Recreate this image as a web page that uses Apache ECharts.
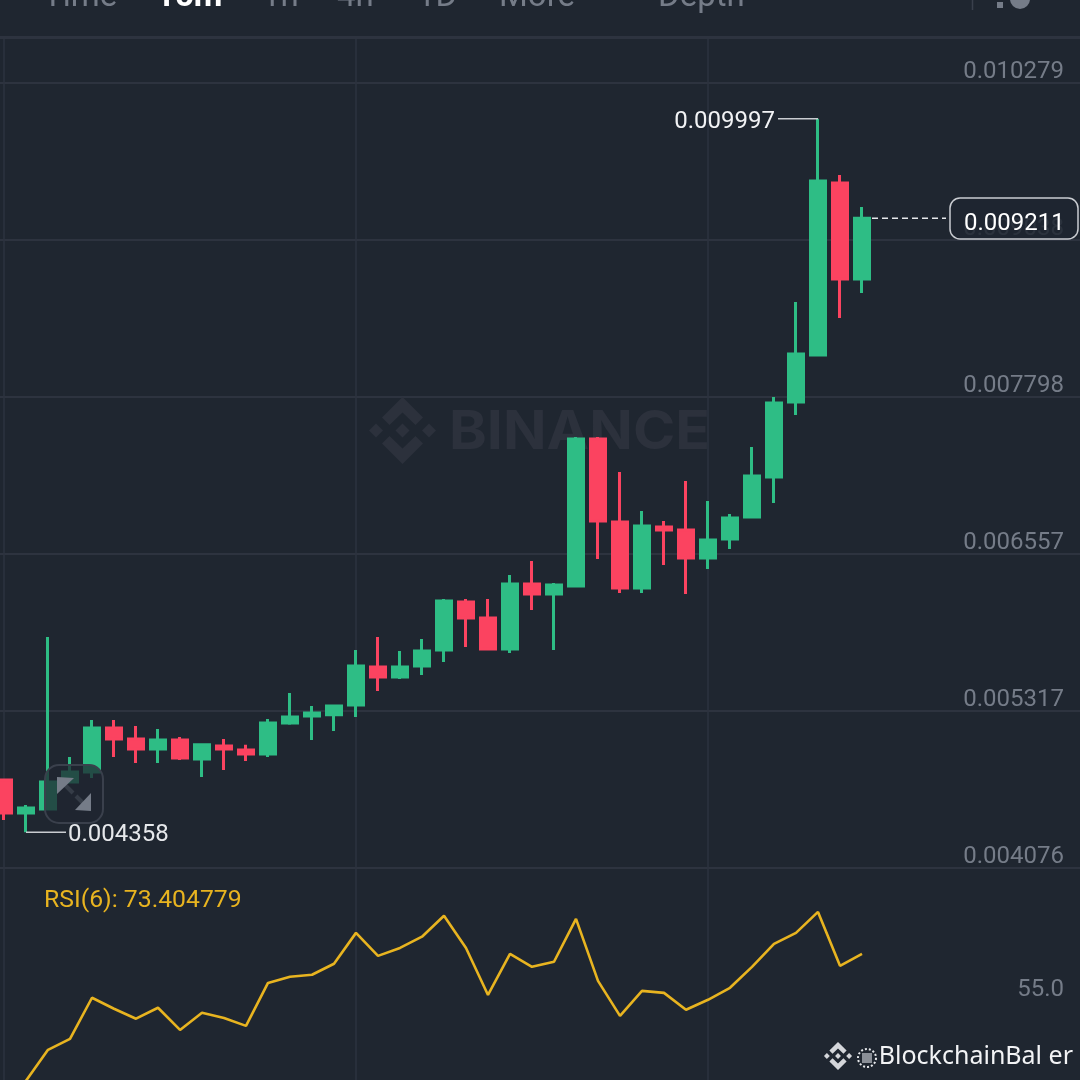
<!DOCTYPE html>
<html>
<head>
<meta charset="utf-8">
<style>
  html, body { margin: 0; padding: 0; background: #1f2630; }
  #main { width: 1080px; height: 1080px; }
</style>
<script src="https://cdn.jsdelivr.net/npm/echarts@6/dist/echarts.min.js"></script>
</head>
<body>
<div id="main"></div>
<script>
// candle values, one entry per 15m candle
var opens = [0.004772, 0.004511, 0.004543, 0.004756, 0.004835, 0.005183, 0.005096, 0.005017, 0.005088, 0.004938,
  0.005041, 0.005009, 0.004977, 0.005222, 0.005278, 0.005286, 0.005365, 0.005665, 0.005586, 0.005673,
  0.005799, 0.006178, 0.006052, 0.005807, 0.006321, 0.006242, 0.006305, 0.007466, 0.006811, 0.006289,
  0.006771, 0.006747, 0.006526, 0.006676, 0.006850, 0.007166, 0.007759, 0.008130, 0.009489, 0.008730];
var closes = [0.004511, 0.004551, 0.004756, 0.004835, 0.005183, 0.005096, 0.005017, 0.005088, 0.004946, 0.005049,
  0.005017, 0.004977, 0.005222, 0.005270, 0.005301, 0.005357, 0.005673, 0.005586, 0.005665, 0.005791,
  0.006186, 0.006052, 0.005807, 0.006321, 0.006242, 0.006313, 0.007466, 0.006818, 0.006289, 0.006779,
  0.006747, 0.006526, 0.006668, 0.006842, 0.007174, 0.007751, 0.008138, 0.009505, 0.008730, 0.009211];
var lows = [0.004456, 0.004358, 0.004543, 0.004756, 0.004788, 0.004954, 0.004906, 0.004906, 0.004930, 0.004796,
  0.004851, 0.004922, 0.004954, 0.005207, 0.005088, 0.005159, 0.005270, 0.005475, 0.005570, 0.005602,
  0.005704, 0.005823, 0.005807, 0.005775, 0.006115, 0.005799, 0.006297, 0.006518, 0.006250, 0.006250,
  0.006471, 0.006242, 0.006439, 0.006597, 0.006850, 0.006961, 0.007656, 0.008122, 0.008422, 0.008620];
var highs = [0.004780, 0.004574, 0.005902, 0.004954, 0.005246, 0.005246, 0.005199, 0.005175, 0.005112, 0.005057,
  0.005096, 0.005049, 0.005254, 0.005459, 0.005357, 0.005357, 0.005799, 0.005902, 0.005791, 0.005886,
  0.006202, 0.006202, 0.006202, 0.006392, 0.006502, 0.006329, 0.007482, 0.007482, 0.007206, 0.006897,
  0.006818, 0.007134, 0.006976, 0.006874, 0.007403, 0.007798, 0.008549, 0.009997, 0.009552, 0.009299];
var rsi = [null, 23.7, 35.8, 40.1, 56.2, 51.9, 48.0, 52.3, 43.6, 50.3,
  48.3, 45.2, 62.0, 64.4, 65.2, 69.5, 81.6, 72.6, 75.7, 80.1,
  88.3, 75.7, 57.3, 73.4, 68.3, 70.3, 87.1, 62.8, 49.1, 58.9,
  58.1, 51.5, 55.4, 60.1, 68.3, 77.3, 81.6, 89.8, 68.7, 73.404779];

var priceTicks = [0.004076, 0.005317, 0.006557, 0.007798, 0.009038, 0.010279];
var rsiTicks = [55.0];
var tabs = ['Time', '15m', '1h', '4h', '1D', 'More', 'Depth'];
var tabX = [43, 156, 262, 337, 417, 499, 658];
var emptySlots = 10; // room to the right of the last candle, holds the price scale

var categories = [];
for (var i = 0; i < opens.length + emptySlots; i++) {
  categories.push(String(i));
}
var candles = opens.map(function (o, i) {
  return [o, closes[i], lows[i], highs[i]];
});

var bg = '#1f2630';
var gridColor = '#2d333f';
var up = '#2ebd85';
var down = '#fb4360';
var gold = '#e8b420';
var muted = '#757c88';
var font = 'Roboto';

function everySixteen(index) {
  return index < 40 && index % 16 === 0;
}

var chart = echarts.init(document.getElementById('main'), null, { renderer: 'canvas' });

chart.setOption({
  backgroundColor: bg,
  animation: false,
  grid: [
    { left: -7, top: 37, width: 1100, height: 831, outerBoundsMode: 'none' },
    { left: -7, top: 868, width: 1100, height: 212, outerBoundsMode: 'none' }
  ],
  xAxis: [
    {
      type: 'category', gridIndex: 0, data: categories, position: 'top',
      axisLine: { show: true, onZero: false, lineStyle: { color: gridColor, width: 3 } },
      axisTick: { show: false, alignWithLabel: true },
      axisLabel: { show: false },
      splitLine: { show: true, alignWithLabel: true, interval: everySixteen, lineStyle: { color: gridColor, width: 1.5 } }
    },
    {
      type: 'category', gridIndex: 1, data: categories,
      axisLine: { show: false },
      axisTick: { show: false, alignWithLabel: true },
      axisLabel: { show: false },
      splitLine: { show: true, alignWithLabel: true, interval: everySixteen, lineStyle: { color: gridColor, width: 1.5 } }
    }
  ],
  yAxis: [
    {
      type: 'value', gridIndex: 0, position: 'right', scale: true,
      min: 0.004076, max: 0.0106425,
      axisLine: { show: false },
      axisTick: { show: false, customValues: priceTicks },
      axisLabel: {
        inside: true, margin: 29, customValues: priceTicks, verticalAlign: 'bottom', lineHeight: 22,
        color: muted, fontFamily: font, fontSize: 24,
        formatter: function (v) { return v.toFixed(6); }
      },
      splitLine: { show: true, lineStyle: { color: gridColor, width: 2 } }
    },
    {
      type: 'value', gridIndex: 1, position: 'right',
      min: 24, max: 107,
      axisLine: { show: false },
      axisTick: { show: false, customValues: rsiTicks },
      axisLabel: {
        inside: true, margin: 29, customValues: rsiTicks, verticalAlign: 'bottom', lineHeight: 22,
        color: muted, fontFamily: font, fontSize: 24,
        formatter: function (v) { return v.toFixed(1); }
      },
      splitLine: { show: false }
    }
  ],
  series: [
    {
      type: 'candlestick', xAxisIndex: 0, yAxisIndex: 0, data: candles, barWidth: 16,
      itemStyle: { color: up, color0: down, borderColor: up, borderColor0: down, borderWidth: 3 }
    },
    {
      type: 'line', xAxisIndex: 1, yAxisIndex: 1, data: rsi, showSymbol: false, connectNulls: false,
      lineStyle: { color: gold, width: 2.6 }
    }
  ]
});

// Binance logo, five diamond pieces round a centre point
function logo(cx, cy, s, fill) {
  function pts(list) {
    return list.map(function (p) { return [cx + p[0] * s, cy + p[1] * s]; });
  }
  var parts = [
    [[0, -33.5], [20.5, -13], [13, -5.5], [0, -18], [-13, -5.5], [-20.5, -13]],
    [[0, 33.5], [20.5, 13], [13, 5.5], [0, 18], [-13, 5.5], [-20.5, 13]],
    [[0, -7], [7, 0], [0, 7], [-7, 0]],
    [[-26.5, -7], [-19.5, 0], [-26.5, 7], [-33.5, 0]],
    [[26.5, -7], [33.5, 0], [26.5, 7], [19.5, 0]]
  ];
  return parts.map(function (p) {
    return { type: 'polygon', z: 1, silent: true, shape: { points: pts(p) }, style: { fill: fill } };
  });
}

function text(x, y, str, color, size, opts) {
  opts = opts || {};
  return {
    type: 'text', z: opts.z || 20, silent: true, x: x, y: y, scaleX: opts.scaleX || 1,
    style: {
      text: str, fill: color, fontFamily: opts.family || font, fontSize: size,
      fontWeight: opts.weight || 'normal', textAlign: opts.align || 'left', textVerticalAlign: opts.valign || 'middle'
    }
  };
}

function segment(x1, y1, x2, y2, color, width, dash) {
  return {
    type: 'line', z: 15, silent: true, shape: { x1: x1, y1: y1, x2: x2, y2: y2 },
    style: { stroke: color, lineWidth: width, lineDash: dash || null }
  };
}

var finder = { xAxisIndex: 0, yAxisIndex: 0 };
var hiIndex = highs.indexOf(Math.max.apply(null, highs));
var loIndex = lows.indexOf(Math.min.apply(null, lows));
var last = closes.length - 1;
var hi = chart.convertToPixel(finder, [hiIndex, highs[hiIndex]]);
var lo = chart.convertToPixel(finder, [loIndex, lows[loIndex]]);
var now = chart.convertToPixel(finder, [last, closes[last]]);

var g = [];
g = g.concat(logo(402.5, 430.5, 1, '#2c313c'));
g.push(text(449, 433, 'BINANCE', '#2c313c', 54, { weight: 'bold', family: 'Inter', scaleX: 1.06, z: 1 }));

// tabs on top, cut by the window edge like in the screenshot
tabs.forEach(function (t, i) {
  g.push(text(tabX[i], 14, t, t === '15m' ? '#ffffff' : muted, 33, {
    valign: 'bottom', family: 'Roboto', weight: t === '15m' ? 'bold' : 'normal'
  }));
});
g.push(segment(972.5, 0, 972.5, 10, '#3a404c', 1.5));
g.push({ type: 'rect', z: 20, silent: true, shape: { x: 997, y: 2, width: 6, height: 6 }, style: { fill: muted } });
g.push({ type: 'circle', z: 20, silent: true, shape: { cx: 1020, cy: -1, r: 10 }, style: { fill: muted } });

// high and low labels
g.push(segment(hi[0], hi[1], hi[0] - 40, hi[1], '#c9ccd1', 1.5));
g.push(text(hi[0] - 43, hi[1] + 3, highs[hiIndex].toFixed(6), '#f2f3f5', 24, { align: 'right' }));
g.push(segment(lo[0], lo[1], lo[0] + 40, lo[1], '#c9ccd1', 1.5));
g.push(text(lo[0] + 42, lo[1] + 3, lows[loIndex].toFixed(6), '#e6e8eb', 24));

// last price
g.push(segment(now[0] + 10, now[1], 946, now[1], '#e6e8eb', 1.5, [6, 4]));
g.push({
  type: 'rect', z: 16, silent: true,
  shape: { x: 950, y: 198, width: 128, height: 41, r: 10 },
  style: { fill: 'rgba(31,38,48,0.85)', stroke: '#c9ccd1', lineWidth: 1.5 }
});
g.push(text(964, 224, closes[last].toFixed(6), '#ffffff', 24));

// RSI label
g.push(text(44, 901, 'RSI(6): ' + rsi[last].toFixed(6), gold, 24.75));

// expand button over the candles
g.push({
  type: 'rect', z: 17, silent: true,
  shape: { x: 45, y: 765, width: 58, height: 58, r: 14 },
  style: { fill: 'rgba(31,38,48,0.74)', stroke: '#3a404c', lineWidth: 2 }
});
g.push({ type: 'polygon', z: 18, silent: true, shape: { points: [[57, 777], [74, 778], [57, 794]] }, style: { fill: '#757c88' } });
g.push({ type: 'polygon', z: 18, silent: true, shape: { points: [[91, 811], [91, 793], [75, 810]] }, style: { fill: '#757c88' } });
g.push(segment(64, 784, 73, 793, '#757c88', 4));
g.push(segment(76, 796, 85, 805, '#757c88', 4));

// footer watermark
g = g.concat(logo(838, 1056, 0.42, '#d4d6da'));
g.push({
  type: 'circle', z: 20, silent: true, shape: { cx: 867, cy: 1058, r: 9 },
  style: { fill: bg, stroke: '#e6e8eb', lineWidth: 2, lineDash: [2, 2] }
});
g.push({ type: 'rect', z: 20, silent: true, shape: { x: 862, y: 1053, width: 10, height: 10 }, style: { fill: '#8a8f97' } });
g.push(text(1073, 1057, 'BlockchainBal er', '#f2f3f5', 25, { align: 'right', family: 'Noto Sans' }));

chart.setOption({ graphic: g });
</script>
</body>
</html>
